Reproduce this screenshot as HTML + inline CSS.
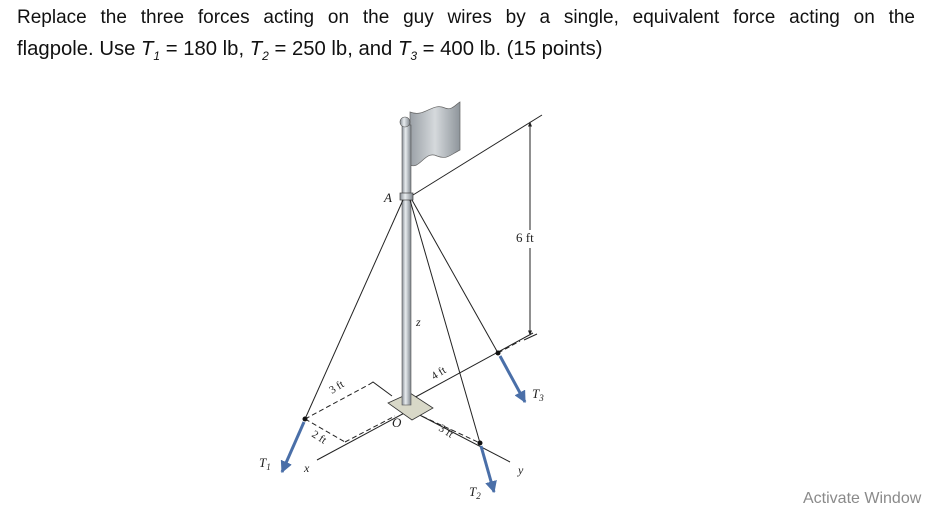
<!DOCTYPE html>
<html><head><meta charset="utf-8"><style>
body{margin:0;width:949px;height:512px;background:#fff;overflow:hidden;position:relative;font-family:"Liberation Sans",sans-serif;}
.l{position:absolute;left:17px;font-size:19px;color:#111;white-space:nowrap;}
#l1{top:7px;width:898px;text-align:justify;text-align-last:justify;white-space:normal;}
#l2{top:38px;font-size:20.3px;}
sub{font-size:12px;font-style:italic;}
.aw{position:absolute;left:803px;top:490px;font-size:16px;color:#8a8a8a;}
</style></head><body>
<div class="l" id="l1">Replace the three forces acting on the guy wires by a single, equivalent force acting on the</div>
<div class="l" id="l2">flagpole. Use <i>T</i><sub>1</sub> = 180 lb, <i>T</i><sub>2</sub> = 250 lb, and <i>T</i><sub>3</sub> = 400 lb. (15 points)</div>
<svg width="949" height="512" style="position:absolute;left:0;top:0" font-family="Liberation Serif,serif">
<defs>
<linearGradient id="pg" x1="0" x2="1"><stop offset="0" stop-color="#8a9097"/><stop offset=".4" stop-color="#e8ecef"/><stop offset="1" stop-color="#7d848b"/></linearGradient>
<linearGradient id="fg" x1="0" x2="1"><stop offset="0" stop-color="#9aa0a6"/><stop offset=".5" stop-color="#d5d9dc"/><stop offset="1" stop-color="#8e959b"/></linearGradient>
<marker id="ar" viewBox="0 0 10 10" refX="9" refY="5" markerWidth="4" markerHeight="4" orient="auto"><path d="M0,0L10,5L0,10z" fill="#4a6fa8"/></marker>
<marker id="dm" viewBox="0 0 10 10" refX="9" refY="5" markerWidth="5" markerHeight="5" orient="auto"><path d="M0,1L10,5L0,9z" fill="#222"/></marker>
</defs>
<path d="M410,112 C425,118 432,102 445,108 C452,111 456,104 460,102 L460,150 C450,155 447,160 437,156 C425,150 420,170 410,165 Z" fill="url(#fg)" stroke="#666" stroke-width=".7"/>
<g stroke="#222" stroke-width="1" fill="none">
<line x1="410" y1="410" x2="317" y2="460"/>
<line x1="410" y1="410" x2="510" y2="462"/>
<line x1="410" y1="400" x2="533" y2="333"/>
<path d="M305,419 L370,384" stroke-dasharray="5,3"/>
<path d="M370,384 L373,382 L392,396"/>
<path d="M305,419 L345,442" stroke-dasharray="5,3"/>
<path d="M345,442 L395,416" stroke-dasharray="5,3"/>
<path d="M415,413 L480,443" stroke-dasharray="5,3"/>
<path d="M498,353 L520,341" stroke-dasharray="5,3"/>
</g>
<path d="M388,403 L410,393 L433,408 L412,420 Z" fill="#d8d8c8" stroke="#333" stroke-width=".8"/>
<rect x="402" y="125" width="9" height="280" fill="url(#pg)" stroke="#555" stroke-width=".6"/>
<circle cx="405" cy="122" r="5" fill="url(#pg)" stroke="#555" stroke-width=".6"/>
<rect x="400" y="193" width="13" height="7" fill="url(#pg)" stroke="#444" stroke-width=".7"/>
<g stroke="#222" stroke-width="1" fill="none">
<line x1="413" y1="195" x2="542" y2="115"/>
<line x1="403" y1="200" x2="305" y2="419"/>
<line x1="410" y1="200" x2="480" y2="443"/>
<line x1="412" y1="200" x2="498" y2="353"/>
<line x1="530" y1="230" x2="530" y2="122" marker-end="url(#dm)"/>
<line x1="530" y1="248" x2="530" y2="335" marker-end="url(#dm)"/>
<line x1="524" y1="340" x2="537" y2="334"/>
</g>
<circle cx="305" cy="419" r="2.5" fill="#111"/>
<circle cx="480" cy="443" r="2.5" fill="#111"/>
<circle cx="498" cy="353" r="2.5" fill="#111"/>
<g stroke="#4a6fa8" stroke-width="3" marker-end="url(#ar)">
<line x1="304" y1="422" x2="282" y2="472"/>
<line x1="481" y1="446" x2="494" y2="492"/>
<line x1="500" y1="356" x2="525" y2="402"/>
</g>
<g font-size="13" fill="#222">
<text x="384" y="202" font-style="italic">A</text>
<text x="516" y="242">6 ft</text>
<text x="416" y="326" font-style="italic" font-size="12">z</text>
<text x="392" y="427" font-style="italic">O</text>
<text x="304" y="472" font-style="italic" font-size="12">x</text>
<text x="518" y="474" font-style="italic" font-size="12">y</text>
<text x="259" y="467" font-style="italic">T<tspan font-size="9" dy="3">1</tspan></text>
<text x="469" y="496" font-style="italic">T<tspan font-size="9" dy="3">2</tspan></text>
<text x="532" y="398" font-style="italic">T<tspan font-size="9" dy="3">3</tspan></text>
<text x="0" y="0" font-size="11" transform="translate(332,394) rotate(-32)">3 ft</text>
<text x="0" y="0" font-size="11" transform="translate(311,436) rotate(32)">2 ft</text>
<text x="0" y="0" font-size="11" transform="translate(434,380) rotate(-32)">4 ft</text>
<text x="0" y="0" font-size="11" transform="translate(438,430) rotate(32)">3 ft</text>
</g>
</svg>
<div class="aw">Activate Window</div>
</body></html>
